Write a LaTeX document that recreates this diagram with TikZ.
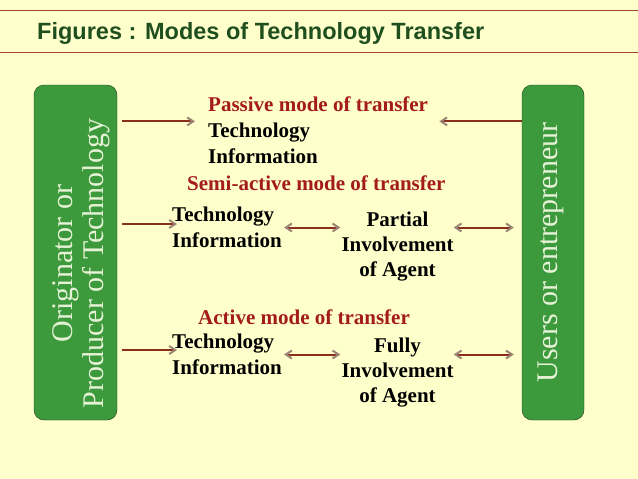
\documentclass[tikz,border=0pt]{standalone}
\usepackage{fontspec}
\setmainfont{Liberation Serif}
\newfontfamily\headfont{Liberation Sans}
\usetikzlibrary{arrows.meta,positioning}
\definecolor{pagebg}{HTML}{FFFFCC}
\definecolor{rulered}{HTML}{A0462A}
\definecolor{headgreen}{HTML}{1F4F1F}
\definecolor{modered}{HTML}{A31B1B}
\definecolor{boxgreen}{HTML}{3C9A3C}
\definecolor{boxline}{HTML}{1E3A1E}
\definecolor{boxtext}{HTML}{E6F2D6}
\definecolor{arrowred}{HTML}{8B2E1E}
\definecolor{tipgray}{HTML}{9A8474}
\tikzset{
    party-box/.style = {draw=boxline, fill=boxgreen, thin, rectangle, rounded corners=10pt, inner sep=0pt},
    party-text/.style = {rotate=90, align=center, inner sep=0pt, text=boxtext, font=\fontsize{30}{31}\selectfont},
    mode-title/.style = {anchor=west, inner sep=0pt, text=modered, font=\bfseries\fontsize{21}{26}\selectfont},
    info-text/.style = {anchor=west, inner sep=0pt, align=left, font=\bfseries\fontsize{21}{26}\selectfont},
    agent-text/.style = {inner sep=0pt, align=center, font=\bfseries\fontsize{21}{25}\selectfont},
    fwd/.style = {draw=arrowred, line width=2pt, -{Straight Barb[length=6pt, width=8pt, color=tipgray]}},
    both-ways/.style = {draw=arrowred, line width=2pt, {Straight Barb[length=6pt, width=8pt, color=tipgray]}-{Straight Barb[length=6pt, width=8pt, color=tipgray]}},
}

\begin{document}
\begin{tikzpicture}[x=1pt, y=-1pt]
\fill[pagebg] (0,0) rectangle (638,479);
\useasboundingbox (0,0) rectangle (638,479);
% heading between two rules
\draw[rulered, line width=0.8pt] (0,10.5) -- (638,10.5);
\draw[rulered, line width=0.8pt] (0,52.5) -- (638,52.5);
\node[anchor=west, inner sep=0pt, text=headgreen, font=\headfont\bfseries\fontsize{23.5}{24}\selectfont] (heading) at (37,33) {Figures : Modes of Technology Transfer};

% the two parties
\node[party-box, minimum width=83pt, minimum height=335pt] (origin) at (75.5,252.5) {};
\node[party-text] (origin-label) at ([xshift=6pt, yshift=-11pt]origin.center) {Originator or\\Producer of Technology};
\node[party-box, minimum width=62pt, minimum height=335pt] (users) at (553,252.5) {};
\node[party-text] (users-label) at ([xshift=-2pt]users.center) {Users or entrepreneur};

% passive mode
\node[mode-title] (passive) at (208,104) {Passive mode of transfer};
\node[info-text] (tech1) at (208,143.5) {Technology\\Information};
% semi-active mode
\node[mode-title] (semi) at (187,183) {Semi-active mode of transfer};
\node[info-text] (tech2) at (172,227.5) {Technology\\Information};
\node[agent-text] (partial) at (397.5,247) {Partial\\Involvement\\of Agent};
% active mode
\node[mode-title] (active) at (198,317) {Active mode of transfer};
\node[info-text] (tech3) at (172,354.5) {Technology\\Information};
\node[agent-text] (fully) at (397.5,372.5) {Fully\\Involvement\\of Agent};

\coordinate (in1) at ([yshift=1.5pt]tech1.north west);
\coordinate (in2) at ([yshift=3.5pt]tech2.west);
\coordinate (in3) at ([yshift=4.5pt]tech3.west);

\draw[fwd, shorten <=5pt, shorten >=13pt] (origin.east |- in1) -- (in1);
\draw[fwd, shorten >=11pt] (users.west |- in1) -- (passive.east |- in1);

\draw[fwd, shorten <=5pt, shorten >=-5pt] (origin.east |- in2) -- (in2);
\draw[both-ways, shorten <=2pt, shorten >=1pt] (tech2.east) -- (tech2.east -| partial.west);
\draw[both-ways, shorten >=8pt] (partial.east |- tech2.east) -- (users.west |- tech2.east);

\draw[fwd, shorten <=5pt, shorten >=-5pt] (origin.east |- in3) -- (in3);
\draw[both-ways, shorten <=2pt, shorten >=1pt] (tech3.east) -- (tech3.east -| fully.west);
\draw[both-ways, shorten >=8pt] (fully.east |- tech3.east) -- (users.west |- tech3.east);
\end{tikzpicture}
\end{document}
